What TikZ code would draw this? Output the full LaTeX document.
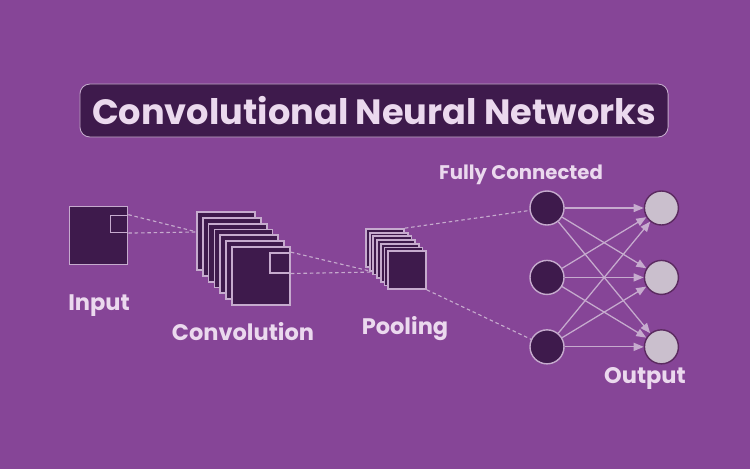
\documentclass[tikz,border=0pt]{standalone}
\usepackage{fontspec}
\setmainfont{Poppins}
\usepackage{tikz}
\usetikzlibrary{positioning}
\usetikzlibrary{arrows.meta}

\definecolor{bgpurple}{HTML}{864597}
\definecolor{darkplum}{HTML}{3E1A4C}
\definecolor{edgelight}{HTML}{C6ABCE}
\definecolor{labeltext}{HTML}{EBD9EE}
\definecolor{outfill}{HTML}{CABFCD}
\definecolor{outedge}{HTML}{5B2A60}

\begin{document}
\begin{tikzpicture}[
			x=0.025cm, y=-0.025cm,
			node distance=0.85cm,
			every node/.style={font=\bfseries, text=labeltext},
			sqbox/.style={draw=edgelight, fill=darkplum, line width=1.2pt, inner sep=0pt, minimum size=1.45cm},
			poolbox/.style={sqbox, minimum size=0.95cm},
			winbox/.style={draw=edgelight, line width=1pt, inner sep=0pt, minimum size=#1},
			fcnode/.style={circle, draw=edgelight, fill=darkplum, line width=1pt, minimum size=0.85cm},
			outnode/.style={circle, draw=outedge, fill=outfill, line width=1pt, minimum size=0.85cm},
			lbl/.style={font=\fontsize{16}{19}\selectfont\bfseries},
			dashline/.style={draw=edgelight, line width=0.8pt, dash pattern=on 2.5pt off 2pt},
			arrow/.style={-{Triangle[length=0.25cm, width=0.2cm]}, draw=edgelight, line width=0.9pt}
			]
			
			% Fondo
			\fill[bgpurple] (0,0) rectangle (750,469);
			
			% Titulo
			\node[draw=edgelight, fill=darkplum, rounded corners=0.25cm, line width=0.6pt,
			minimum width=14.7cm, minimum height=1.325cm, font=\fontsize{25}{30}\selectfont\bfseries] (title) at (374,110.5)
			{Convolutional Neural Networks};
			
			% Entrada
			\node[sqbox] (inp) at (98.5,235.5) {};
			\node[winbox=0.425cm, anchor=north east] (inwin) at ([yshift=-0.225cm]inp.north east) {};
			\node[lbl] (inlbl) at (99,306) {Input};
			
			\coordinate (convfocus) at (197,232);
			\coordinate (poolfocus) at (374,272);
			\draw[dashline] (inwin.north east) -- (convfocus);
			\draw[dashline] (inwin.south east) -- (convfocus);
			
			% Convolucion
			\foreach \i in {1,...,7}
			\node[sqbox] (conv\i) at ({226+(\i-1)*5.83},{241+(\i-1)*5.83}) {};
			\node[winbox=0.5cm, anchor=north east] (convwin) at ([yshift=-0.15cm]conv7.north east) {};
			\node[lbl] (convlbl) at (243,332) {Convolution};
			
			\draw[dashline] (convwin.north east) -- (poolfocus);
			\draw[dashline] (convwin.south east) -- (poolfocus);
			
			% Pooling
			\foreach \i in {1,...,7}
			\node[poolbox] (pool\i) at ({385+(\i-1)*3.67},{248+(\i-1)*3.67}) {};
			\node[lbl] (poollbl) at (405,329) {Pooling};
			
			% Capa totalmente conectada
			\node[fcnode] (fc1) at (547,208) {};
			\node[fcnode, below=of fc1] (fc2) {};
			\node[fcnode, below=of fc2] (fc3) {};
			\node[font=\fontsize{14}{17}\selectfont\bfseries] (fclbl) at (521,175) {Fully Connected};
			
			\draw[dashline] (pool1.north east) -- (fc1);
			\draw[dashline] (pool7.south east) -- (fc3);
			
			% Salida
			\node[outnode, right=1.975cm of fc1] (out1) {};
			\node[outnode, right=1.975cm of fc2] (out2) {};
			\node[outnode, right=1.975cm of fc3] (out3) {};
			\node[lbl] (outlbl) at (645,378) {Output};
			
			% Flechas
			\foreach \i in {1,2,3}
			\foreach \j in {1,2,3}
			\draw[arrow] (fc\i) -- (out\j);
			
		\end{tikzpicture}
\end{document}
